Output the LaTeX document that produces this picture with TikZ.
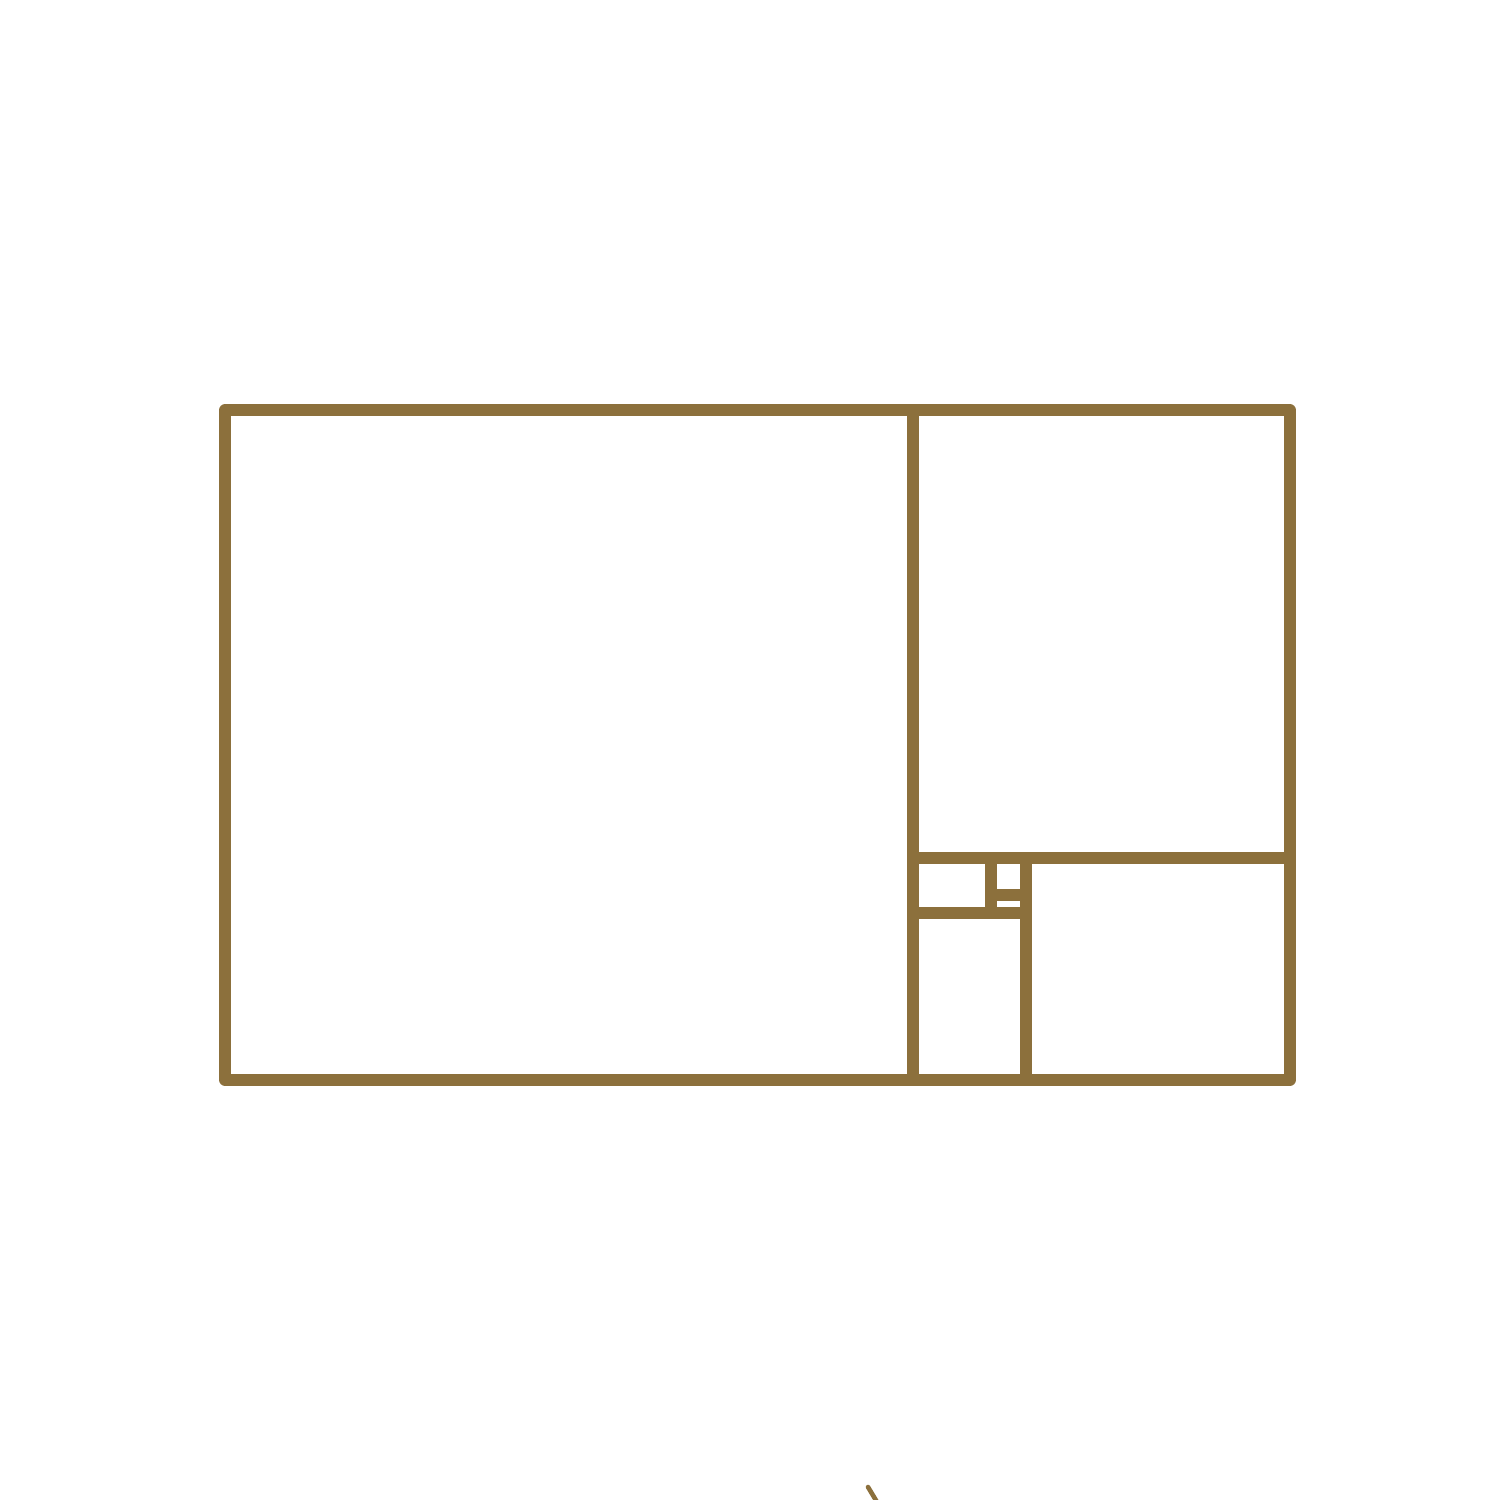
\documentclass[tikz,border=0pt]{standalone}
\usepackage{tikz}

\definecolor{gold}{RGB}{140,112,60}

\tikzset{
  frame/.style={
    draw=gold,
    line width=3.2pt,
    line join=round,
    line cap=round
  }
}

\begin{document}
\begin{tikzpicture}[
  x={(0.01cm,0cm)},
  y={(0cm,-0.01cm)}
]

\useasboundingbox (0,0) rectangle (1500,1500);

% outer rectangle
\path[frame] (225,410) rectangle (1290,1080);

% subdivisions
\path[frame,line cap=butt]
(913,410) -- (913,1080)
(913,858) -- (1290,858)
(1026,858) -- (1026,1080)
(913,913) -- (1026,913)
(991,858) -- (991,913)
(991,895) -- (1026,895)
;

% stray stroke
\path[
  draw=gold,
  line width=1.3pt,
  line cap=round
]
(868,1487) -- (877,1502);
\end{tikzpicture}
\end{document}
